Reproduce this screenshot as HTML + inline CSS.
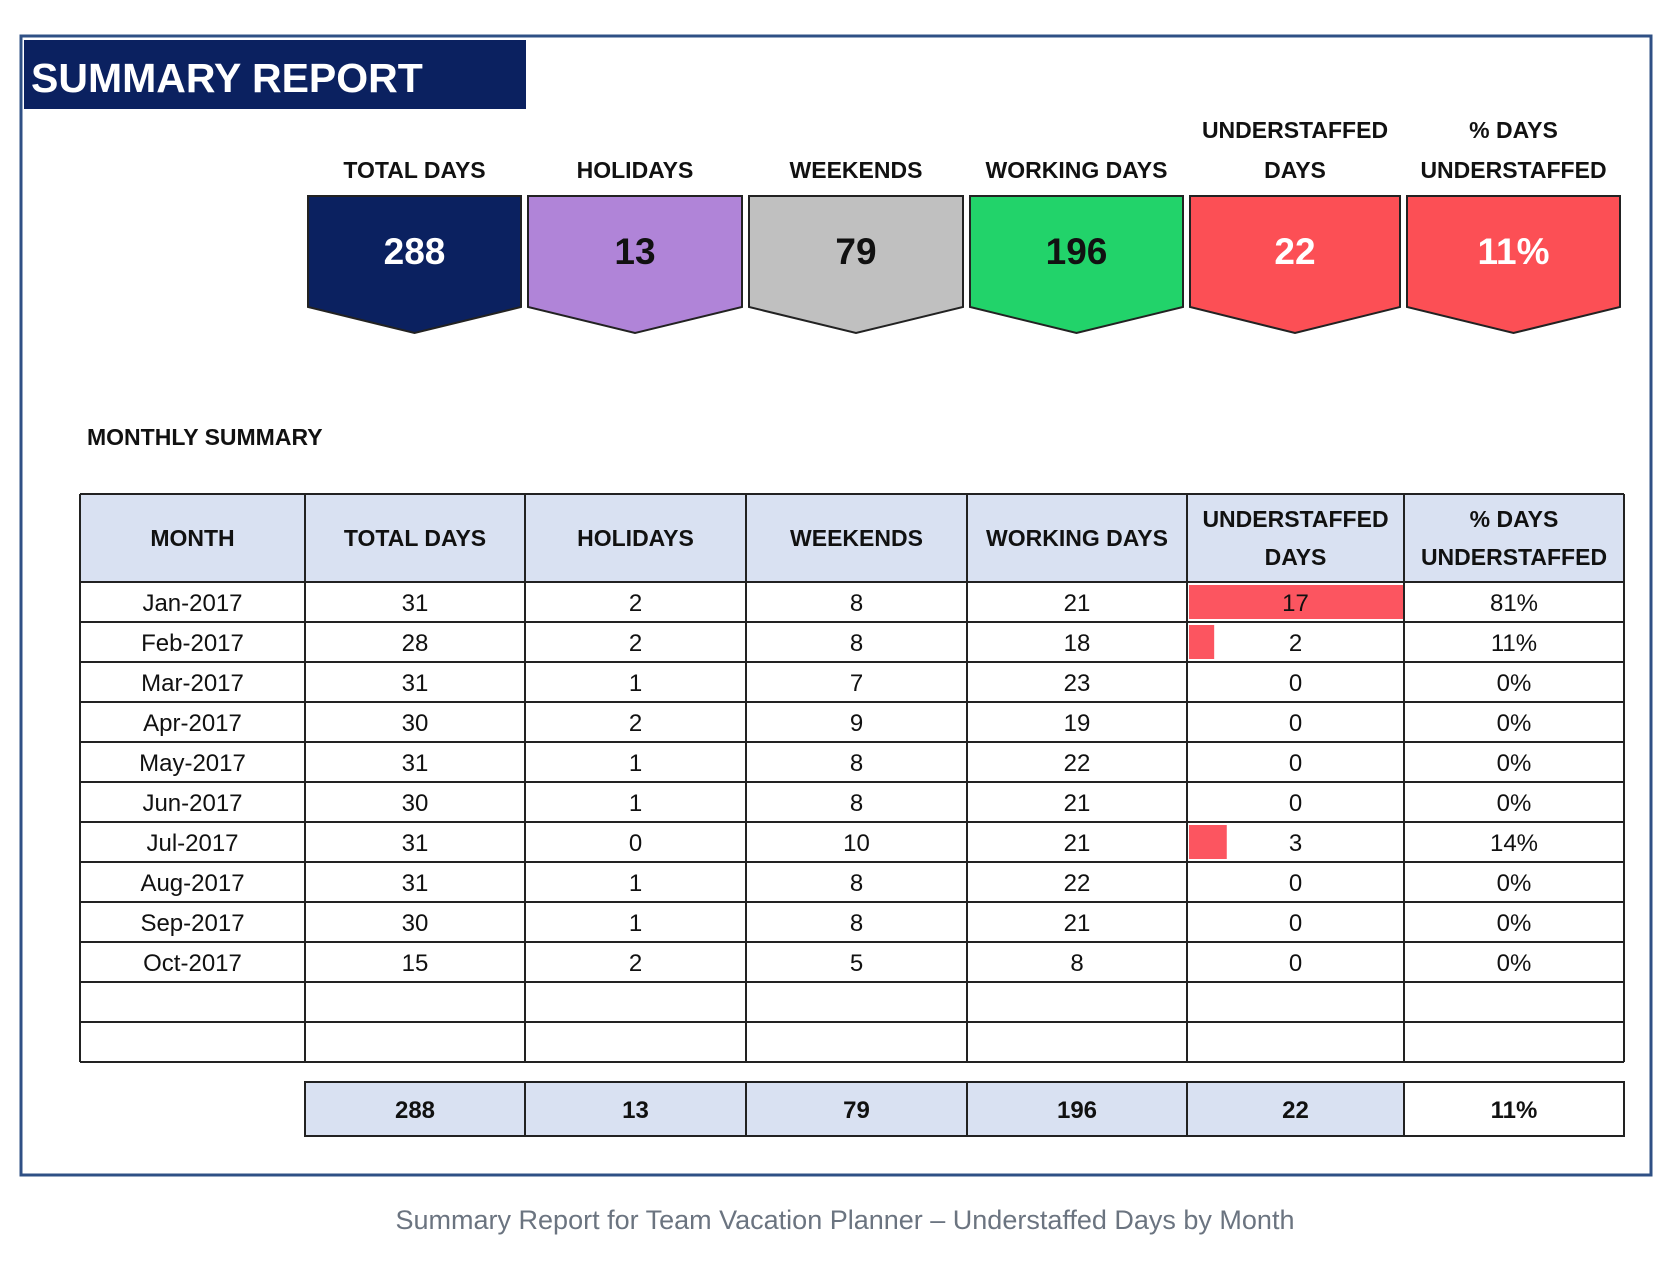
<!DOCTYPE html>
<html><head><meta charset="utf-8"><style>
html,body{margin:0;padding:0;background:#fff;}
svg{display:block;font-family:"Liberation Sans",Arial,sans-serif;}
</style></head><body>
<svg id="s" width="1678" height="1266" viewBox="0 0 1678 1266" xmlns="http://www.w3.org/2000/svg">
<rect x="21" y="36" width="1630" height="1139" fill="#fff" stroke="#2f5085" stroke-width="3"/>
<rect x="24" y="40" width="502" height="69" fill="#0b2160"/>
<text x="31" y="92" font-size="41" font-weight="bold" fill="#fff">SUMMARY REPORT</text>
<g id="kpis"></g>
<text x="87" y="445" font-size="23" font-weight="bold" fill="#111">MONTHLY SUMMARY</text>
<g id="tbl"></g>
<text x="845" y="1229" font-size="27" fill="#6b7480" text-anchor="middle">Summary Report for Team Vacation Planner – Understaffed Days by Month</text>
</svg>
<script>
const kpiLabels=[["TOTAL DAYS"],["HOLIDAYS"],["WEEKENDS"],["WORKING DAYS"],["UNDERSTAFFED","DAYS"],["% DAYS","UNDERSTAFFED"]];
const kpiValues=["288","13","79","196","22","11%"];
const kpiFills=["#0b2160","#b084d8","#c0c0c0","#22d36a","#fc4f55","#fc4f55"];
const kpiText=["#fff","#111","#111","#111","#fff","#fff"];
const months=["Jan-2017","Feb-2017","Mar-2017","Apr-2017","May-2017","Jun-2017","Jul-2017","Aug-2017","Sep-2017","Oct-2017"];
const totalDays=[31,28,31,30,31,30,31,31,30,15];
const holidays=[2,2,1,2,1,1,0,1,1,2];
const weekends=[8,8,7,9,8,8,10,8,8,5];
const workingDays=[21,18,23,19,22,21,21,22,21,8];
const understaffed=[17,2,0,0,0,0,3,0,0,0];
const pctUnderstaffed=["81%","11%","0%","0%","0%","0%","14%","0%","0%","0%"];
const totals=["288","13","79","196","22","11%"];
const headers=[["MONTH"],["TOTAL DAYS"],["HOLIDAYS"],["WEEKENDS"],["WORKING DAYS"],["UNDERSTAFFED","DAYS"],["% DAYS","UNDERSTAFFED"]];

const NS="http://www.w3.org/2000/svg";
function mk(tag,attrs,parent,txt){const e=document.createElementNS(NS,tag);for(const k in attrs)e.setAttribute(k,attrs[k]);if(txt!==undefined)e.textContent=txt;parent.appendChild(e);return e;}
const kg=document.getElementById('kpis');
const colX=[80,305,525,746,967,1187,1404,1624];
kpiValues.forEach((v,i)=>{
  const x0=colX[i+1]+3,x1=colX[i+2]-4,cx=(x0+x1)/2;
  const g=mk('g',{},kg);
  
  
  const p=mk('polygon',{points:`${x0},196 ${x1},196 ${x1},307 ${cx},333 ${x0},307`,fill:kpiFills[i],stroke:'#222','stroke-width':2},g);
  
  
  const lab=kpiLabels[i];
  lab.forEach((l,j)=>{
    const y=lab.length===2?(j===0?138:178):178;
    const t=mk('text',{x:cx,y:y,'font-size':23,'font-weight':'bold','text-anchor':'middle',fill:'#111'},g,l);
    
    
  });
  const t=mk('text',{x:cx,y:264,'font-size':37,'font-weight':'bold','text-anchor':'middle',fill:kpiText[i]},g,v);
  
  
});
const tg=document.getElementById('tbl');
const tableTop=494,headBottom=582,rowH=40,nRows=12;
mk('rect',{x:80,y:tableTop,width:1544,height:headBottom-tableTop,fill:'#d9e1f2'},tg);
const tableBottom=headBottom+rowH*nRows;
const maxU=17;
const ux0=colX[5]+2,uw=colX[6]-colX[5]-3;
understaffed.forEach((u,r)=>{
  if(u>0){
    const b=mk('rect',{x:ux0,y:headBottom+r*rowH+3,width:u/maxU*uw,height:rowH-6,fill:'#fc5560'},tg);
    
    
  }
});
headers.forEach((h,i)=>{
  const cx=(colX[i]+colX[i+1])/2;
  h.forEach((l,j)=>{
    const y=h.length===2?(j===0?527:565):546;
    const t=mk('text',{x:cx,y:y,'font-size':23,'font-weight':'bold','text-anchor':'middle',fill:'#111'},tg,l);
    
    
  });
});
const colsData=[months,totalDays,holidays,weekends,workingDays,understaffed,pctUnderstaffed];
months.forEach((m,r)=>{
  colsData.forEach((arr,c)=>{
    const t=mk('text',{x:(colX[c]+colX[c+1])/2,y:headBottom+r*rowH+29,'font-size':24,'text-anchor':'middle',fill:'#111'},tg,String(arr[r]));
    
    
  });
});
for(let r=0;r<=nRows;r++){mk('line',{x1:80,x2:1624,y1:headBottom+r*rowH,y2:headBottom+r*rowH,stroke:'#222','stroke-width':2},tg);}
mk('line',{x1:80,x2:1624,y1:tableTop,y2:tableTop,stroke:'#222','stroke-width':2},tg);
colX.forEach(x=>mk('line',{x1:x,x2:x,y1:tableTop,y2:tableBottom,stroke:'#222','stroke-width':2},tg));
const ty0=1082,ty1=1136;
totals.forEach((v,i)=>{
  const x0=colX[i+1],x1=colX[i+2];
  const rc=mk('rect',{x:x0,y:ty0,width:x1-x0,height:ty1-ty0,fill:i<5?'#d9e1f2':'#fff',stroke:'#222','stroke-width':2},tg);
  
  
  const t=mk('text',{x:(x0+x1)/2,y:1118,'font-size':24,'font-weight':'bold','text-anchor':'middle',fill:'#111'},tg,v);
  
  
});
</script>
</body></html>
